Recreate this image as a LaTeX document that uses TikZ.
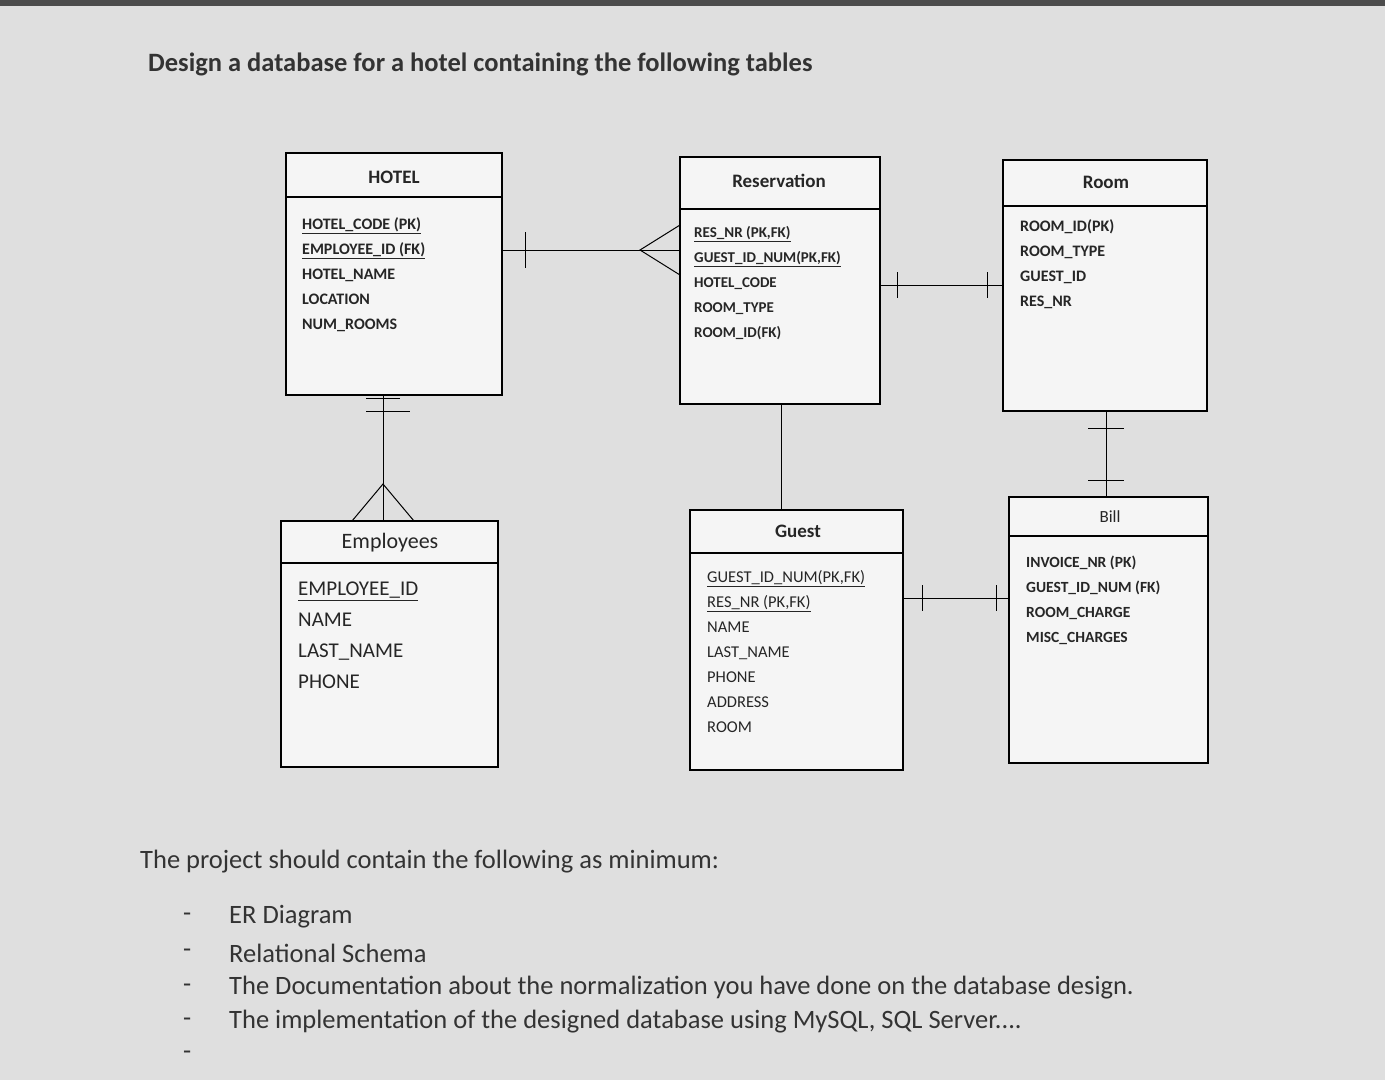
\documentclass[tikz,border=0pt]{standalone}
\usepackage{fontspec}
\setmainfont{Carlito}
\begin{document}
\begin{tikzpicture}[x=1pt,y=-1pt,
  box/.style={draw,line width=1.3pt,fill=gray!8},
  conn/.style={line width=1pt},
  attr/.style={anchor=north west,align=left,inner sep=0pt,font=\bfseries\fontsize{16}{25}\selectfont,text=black!85},
  hdr/.style={font=\bfseries\fontsize{19}{22}\selectfont,text=black!85},
  txt/.style={anchor=west,inner sep=0pt,font=\fontsize{26.5}{28}\selectfont,text=black!80}]
\fill[gray!25] (0,0) rectangle (1385,1080);
\fill[black!70] (0,0) rectangle (1385,6);
\useasboundingbox (0,0) rectangle (1385,1080);
\node[txt,font=\fontsize{26.5}{28}\selectfont\bfseries] (title) at (148,64) {Design a database for a hotel containing the following tables};
% boxes
\draw[box] (286,153) rectangle (502,395); \draw[line width=1.3pt] (286,197)--(502,197);
\node[hdr] (hh) at (394,177) {HOTEL};
\node[attr] (ha) at (302,217) {\underline{HOTEL\_CODE (PK)}\\\underline{EMPLOYEE\_ID (FK)}\\HOTEL\_NAME\\LOCATION\\NUM\_ROOMS};
\draw[box] (680,157) rectangle (880,404); \draw[line width=1.3pt] (680,209)--(880,209);
\node[hdr] (rh) at (779,181) {Reservation};
\node[attr,font=\bfseries\fontsize{15}{25}\selectfont] (ra) at (694,226) {\underline{RES\_NR (PK,FK)}\\\underline{GUEST\_ID\_NUM(PK,FK)}\\HOTEL\_CODE\\ROOM\_TYPE\\ROOM\_ID(FK)};
\draw[box] (1003,160) rectangle (1207,411); \draw[line width=1.3pt] (1003,206)--(1207,206);
\node[hdr] (mh) at (1106,182) {Room};
\node[attr] (ma) at (1020,219) {ROOM\_ID(PK)\\ROOM\_TYPE\\GUEST\_ID\\RES\_NR};
\draw[box] (281,521) rectangle (498,767); \draw[line width=1.3pt] (281,563)--(498,563);
\node[hdr,font=\fontsize{22}{24}\selectfont] (eh) at (390,543) {Employees};
\node[attr,font=\fontsize{21}{31}\selectfont] (ea) at (298,582) {\underline{EMPLOYEE\_ID}\\NAME\\LAST\_NAME\\PHONE};
\draw[box] (690,510) rectangle (903,770); \draw[line width=1.3pt] (690,553)--(903,553);
\node[hdr] (gh) at (798,531) {Guest};
\node[attr,font=\fontsize{16.5}{25}\selectfont] (ga) at (707,570) {\underline{GUEST\_ID\_NUM(PK,FK)}\\\underline{RES\_NR (PK,FK)}\\NAME\\LAST\_NAME\\PHONE\\ADDRESS\\ROOM};
\draw[box] (1009,497) rectangle (1208,763); \draw[line width=1.3pt] (1009,536)--(1208,536);
\node[hdr,font=\fontsize{17}{20}\selectfont] (bh) at (1110,517) {Bill};
\node[attr,font=\bfseries\fontsize{15.5}{25}\selectfont] (ba) at (1026,556) {INVOICE\_NR (PK)\\GUEST\_ID\_NUM (FK)\\ROOM\_CHARGE\\MISC\_CHARGES};
% connectors
\coordinate (h1) at (502,250); \coordinate (r1) at (680,250);
\draw[conn] (h1)--(r1); \draw[conn] (525,232)--(525,268);
\draw[conn] (680,225)--(640,250)--(680,275);
\coordinate (r2) at (880,285); \coordinate (m2) at (1003,285);
\draw[conn] (r2)--(m2); \draw[conn] (897,272)--(897,298); \draw[conn] (987,272)--(987,298);
\coordinate (h3) at (383,395); \coordinate (e3) at (383,521);
\draw[conn] (h3)--(e3); \draw[conn] (366,398)--(400,398); \draw[conn] (366,411)--(410,411);
\draw[conn] (352,521)--(383,484)--(414,521);
\coordinate (r4) at (781,404); \coordinate (g4) at (781,510);
\draw[conn] (r4)--(g4);
\coordinate (m5) at (1106,411); \coordinate (b5) at (1106,497);
\draw[conn] (m5)--(b5); \draw[conn] (1088,428)--(1124,428); \draw[conn] (1088,480)--(1124,480);
\coordinate (g6) at (903,598); \coordinate (b6) at (1009,598);
\draw[conn] (g6)--(b6); \draw[conn] (922,585)--(922,611); \draw[conn] (996,585)--(996,611);
% bottom text
\node[txt] (p) at (140,862) {The project should contain the following as minimum:};
\node[txt] (d1) at (183,917) {-}; \node[txt] (l1) at (229,917) {ER Diagram};
\node[txt] (d2) at (183,953) {-}; \node[txt] (l2) at (229,953) {Relational Schema};
\node[txt] (d3) at (183,988) {-}; \node[txt] (l3) at (229,988) {The Documentation about the normalization you have done on the database design.};
\node[txt] (d4) at (183,1022) {-}; \node[txt] (l4) at (229,1022) {The implementation of the designed database using MySQL, SQL Server....};
\node[txt] (d5) at (183,1055) {-};
\end{tikzpicture}
\end{document}
